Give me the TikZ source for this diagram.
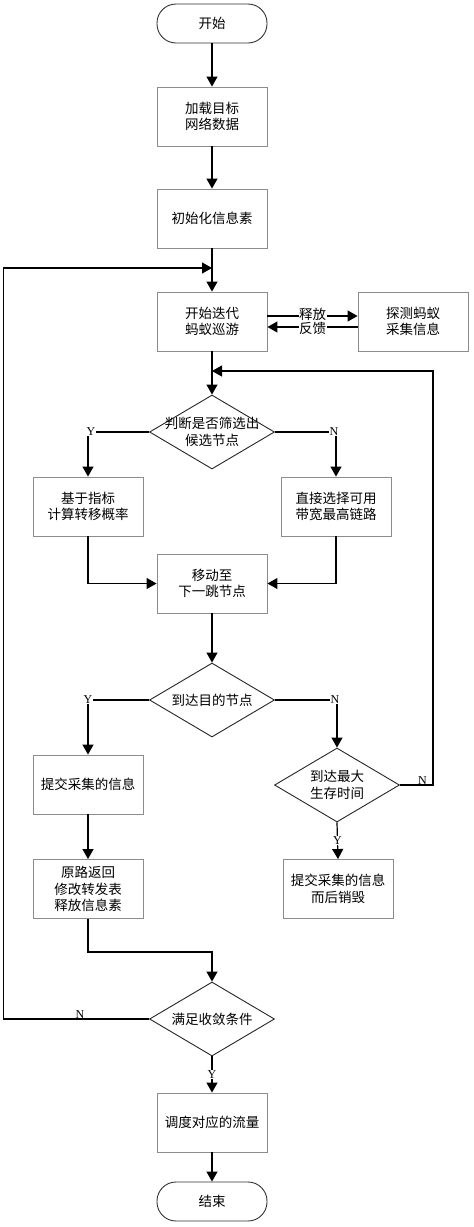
\documentclass[tikz,border=0pt]{standalone}
\usepackage{fontspec}
\setmainfont{Liberation Serif}
\newfontfamily\cjk{Noto Sans CJK SC}
\usetikzlibrary{shapes.geometric,arrows.meta}
\definecolor{boxgray}{HTML}{8C8C8C}
\begin{document}
\begin{tikzpicture}[x=1pt,y=-1pt,
  cjkfont/.style={font=\cjk\fontsize{13.5}{16.5}\selectfont},
  box/.style={draw=boxgray, line width=0.9pt, minimum width=110pt, minimum height=59pt, inner sep=0pt, align=center, cjkfont},
  term/.style={draw=black!80, line width=0.9pt, rounded corners=19pt, minimum width=110pt, minimum height=39pt, inner sep=0pt, cjkfont},
  diam/.style={diamond, draw=black!85, line width=0.9pt, minimum width=125pt, minimum height=74pt, inner sep=0pt},
  dtext/.style={align=center, cjkfont, inner sep=0pt},
  conn/.style={line width=1.2pt, -{Triangle[length=10pt,width=11pt]}},
  yn/.style={font=\fontsize{12}{13}\selectfont, fill=white, inner sep=0.5pt},
  lbl/.style={cjkfont, fill=white, inner sep=0.5pt}]
\useasboundingbox (0,0) rectangle (474,1227);

\node[term] (start) at (212,23.5) {开始};
\node[box] (n1) at (212,116.5) {加载目标\\网络数据};
\node[box] (n2) at (212,218.5) {初始化信息素};
\node[box] (n3) at (212,321.5) {开始迭代\\蚂蚁巡游};
\node[box] (probe) at (413,321.5) {探测蚂蚁\\采集信息};
\node[diam, label={[dtext]center:判断是否筛选出\\候选节点}] (d1) at (212,432) {};
\node[box] (left1) at (88,506.5) {基于指标\\计算转移概率};
\node[box] (right1) at (336,506.5) {直接选择可用\\带宽最高链路};
\node[box] (mv) at (212,583.5) {移动至\\下一跳节点};
\node[diam, label={[dtext]center:到达目的节点}] (d2) at (212,700) {};
\node[box] (sub) at (88,784.5) {提交采集的信息};
\node[diam, label={[dtext]center:到达最大\\生存时间}] (d3) at (337,785) {};
\node[box] (destroy) at (338,889) {提交采集的信息\\而后销毁};
\node[box] (ret) at (88,889) {原路返回\\修改转发表\\释放信息素};
\node[diam, label={[dtext]center:满足收敛条件}] (d4) at (212,1019) {};
\node[box] (sched) at (212,1122.5) {调度对应的流量};
\node[term] (end) at (212,1201.5) {结束};

\coordinate (j1) at (212,268);
\coordinate (ll) at (3.5,268);
\coordinate (j2) at (212,371);
\coordinate (rr) at (433,371);
\coordinate (j3) at (212,952);

\draw[conn] (start) -- (n1);
\draw[conn] (n1) -- (n2);
\draw[conn] (n2) -- (n3);
\draw[conn] ([yshift=5.5pt]n3.east) -- node[lbl, yshift=2pt]{释放} ([yshift=5.5pt]probe.west);
\draw[conn] ([yshift=-5.5pt]probe.west) -- node[lbl, yshift=-1pt]{反馈} ([yshift=-5.5pt]n3.east);
\draw[conn] (n3) -- (d1);
\draw[conn] (d1.west) -| node[yn, pos=0.5, xshift=3pt]{Y} (left1.north);
\draw[conn] (d1.east) -| node[yn, pos=0.5, xshift=-2pt]{N} (right1.north);
\draw[conn] (left1.south) |- (mv.west);
\draw[conn] (right1.south) |- (mv.east);
\draw[conn] (mv) -- (d2);
\draw[conn] (d2.west) -| node[yn, pos=0.5]{Y} (sub.north);
\draw[conn] (d2.east) -| node[yn, pos=0.5, xshift=-2pt]{N} (d3.north);
\draw[conn] (sub) -- (ret);
\draw[conn] (d3.south) -- node[yn]{Y} (destroy.north);
\draw[conn] (d3.east) -| node[yn, above, pos=0.34, fill=none, yshift=-1pt]{N} (rr) -- (j2);
\draw[conn] (ret.south) |- (j3) -- (d4.north);
\draw[conn] (d4.west) -| node[yn, above, pos=0.237, fill=none, yshift=-1pt]{N} (ll) -- (j1);
\draw[conn] (d4.south) -- node[yn]{Y} (sched.north);
\draw[conn] (sched) -- (end);
\end{tikzpicture}
\end{document}
